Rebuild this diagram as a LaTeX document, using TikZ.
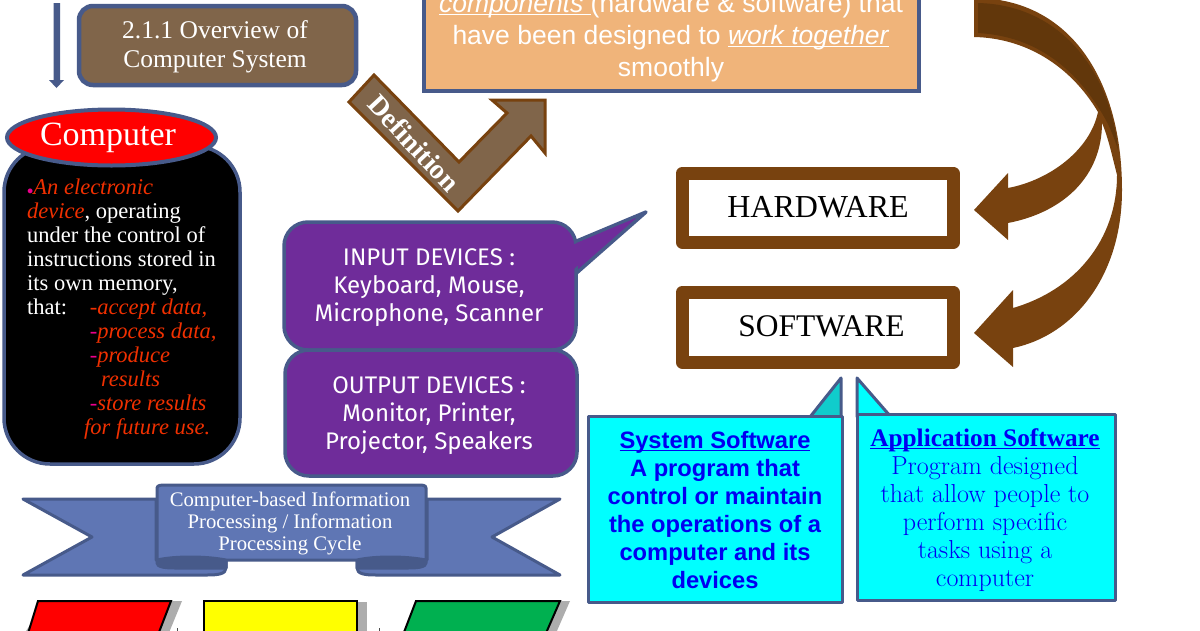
\documentclass[tikz,border=0pt]{standalone}
\usepackage{fontspec}
\newfontfamily\libs{Liberation Serif}
\newfontfamily\ari{Liberation Sans}
\newfontfamily\comic{Fira Sans}
\newcommand\ulx[1]{\underline{\smash{#1}}}
\usetikzlibrary{shapes.geometric}
\definecolor{navy}{HTML}{475A8A}
\definecolor{tan1}{HTML}{80654A}
\definecolor{brown1}{HTML}{78420F}
\definecolor{brown2}{HTML}{62370B}
\definecolor{peach}{HTML}{F0B47A}
\definecolor{purp}{HTML}{6F2C9A}
\definecolor{ribbon}{HTML}{5F76B4}
\definecolor{ribbondk}{HTML}{475A8A}
\definecolor{teal1}{HTML}{10CCCC}
\definecolor{orred}{HTML}{F03000}
\definecolor{grn}{HTML}{00B050}
\definecolor{cyan1}{HTML}{00FFFF}
\definecolor{yel}{HTML}{FFFF00}
\definecolor{red1}{HTML}{FF0000}
\definecolor{blue1}{HTML}{0000F0}
\tikzset{
  txt/.style={align=center,inner sep=0pt},
  navyline/.style={draw=navy,line width=3.5pt},
  ribbonline/.style={draw=navy,line width=3pt,line join=round},
  brownbox/.style={draw=brown1,line width=13pt,fill=white,line join=round,inner sep=0pt},
  purpbox/.style={navyline,fill=purp,rounded corners=24pt},
  cyanbox/.style={navyline,line width=3pt,fill=cyan1,line join=round},
  para/.style={draw=black,line width=2pt,line join=miter},
  shade1/.style={fill=black!32}
}
\begin{document}
\begin{tikzpicture}[x=1pt,y=-1pt]
\useasboundingbox (0,0) rectangle (1200,630);
\fill[white] (0,0) rectangle (1200,630);

% down arrow
\fill[navy] (53.5,3) rectangle (60,80) (49,80) -- (64,80) -- (56.5,88) -- cycle;

% overview box
\draw[navyline,line width=4.5pt,fill=tan1,rounded corners=14pt] (79,6) rectangle (356,85);
\node[txt,text=white,font=\libs\fontsize{25.5}{29}\selectfont] (overview) at (215,46.5) {2.1.1 Overview of\\Computer System};

% orange box
\draw[navyline,fill=peach] (424,-20) rectangle (919,91);
\node[txt,text=white,font=\ari\fontsize{26.5}{32}\selectfont] (defn) at (671,38)
 {\ulx{\textit{components }}(hardware \& software) that\\have been designed to \ulx{\textit{work together}}\\smoothly};

% definition bent arrow
\draw[draw=brown1,line width=3pt,fill=tan1,line join=miter] (349,102) -- (374,75) -- (459,162) -- (507,113) -- (492,100) -- (545,100) -- (545,153) -- (531,136) -- (458,211) -- cycle;
\node[txt,rotate=-47,text=white,font=\libs\bfseries\fontsize{28}{28}\selectfont] (deflabel) at (414,143) {Definition};

% black box and ellipse
\draw[navyline,fill=black,rounded corners=46pt] (4,146) rectangle (240,464);
\node[ellipse,navyline,line width=4pt,fill=red1,minimum width=209pt,minimum height=56pt,inner sep=0pt] (comp) at (111.5,137.5) {};
\node[txt,text=white,font=\libs\fontsize{34}{34}\selectfont] (complabel) at (108,138) {Computer};
\node[anchor=north west,inner sep=0pt,align=left,text=white,font=\libs\fontsize{22.5}{24}\selectfont] (desc) at (27,179) {%
\textcolor{magenta}{\scalebox{.6}{$\bullet$}}\textcolor{orred}{\textit{An electronic}}\\
\textcolor{orred}{\textit{device}}, operating\\
under the control of\\
instructions stored in\\
its own memory,\\
that:};
\node[anchor=north west,inner sep=0pt,align=left,text=orred,font=\libs\itshape\fontsize{22.5}{24}\selectfont] (desc2) at (84,299) {%
\ -accept data,\\
\ \textcolor{magenta}{-}process data,\\
\ \textcolor{magenta}{-}produce\\
\ \ \ results\\
\ \textcolor{magenta}{-}store results\\
for future use.};

% purple callouts
\draw[navyline,fill=purp,line join=round] (572,243) -- (646,212) -- (572,277) -- cycle;
\draw[purpbox] (284,222) rectangle (576,350);
\fill[purp] (570,246) -- (636,218) -- (570,272) -- cycle;
\node[txt,text=white,font=\comic\fontsize{24}{28.3}\selectfont] (input) at (429,287.5) {INPUT DEVICES :\\Keyboard, Mouse,\\Microphone, Scanner};
\draw[purpbox] (285,350) rectangle (577,476);
\node[txt,text=white,font=\comic\fontsize{24}{28.3}\selectfont] (output) at (429,415.5) {OUTPUT DEVICES :\\Monitor, Printer,\\Projector, Speakers};

% hardware/software
\draw[brownbox] (682.5,173) rectangle (953,242.5);
\draw[brownbox] (682.5,292) rectangle (953,362.5);
\node[txt,font=\libs\fontsize{32}{32}\selectfont] (hw) at (818,207) {HARDWARE};
\node[txt,font=\libs\fontsize{31.5}{32}\selectfont] (sw) at (821.5,326) {SOFTWARE};

% curved arrows
\fill[brown1] (974,-2) .. controls (1070,-2) and (1122,80) .. (1122,190)
  .. controls (1122,275) and (1075,335) .. (1013,348)
  -- (1013,367) -- (974,333) -- (1013,290) -- (1013,308)
  .. controls (1075,290) and (1117,240) .. (1117,175)
  .. controls (1112,155) and (1108,137) .. (1102,123)
  .. controls (1102,175) and (1065,212) .. (1008,223)
  -- (1008,240) -- (974,210) -- (1008,173) -- (1008,188)
  .. controls (1050,180) and (1090,150) .. (1098,112)
  .. controls (1070,65) and (1025,38) .. (974,37) -- cycle;
\fill[brown2] (978,3) .. controls (1060,5) and (1110,70) .. (1118,150)
  .. controls (1112,130) and (1105,118) .. (1100,110)
  .. controls (1070,62) and (1030,36) .. (978,33) -- cycle;

% cyan callouts
\draw[navyline,line width=3pt,fill=teal1,line join=round] (810,417) -- (841,378) -- (841,417) -- cycle;
\draw[cyanbox] (588,416) rectangle (842,602);
\node[txt,text=blue1,font=\ari\bfseries\fontsize{23.7}{28}\selectfont] (sys) at (715,519) {\ulx{System Software}\\A program that\\control or maintain\\the operations of a\\computer and its\\devices};
\draw[navyline,line width=3pt,fill=cyan1,line join=round] (857,417) -- (857,378) -- (891,417) -- cycle;
\draw[cyanbox] (857,414) rectangle (1115,600);
\node[txt,text=blue1,font=\fontsize{26}{28}\selectfont] (app) at (985,519) {\ulx{\libs\bfseries\fontsize{25.3}{28}\selectfont Application Software}\\Program designed\\that allow people to\\perform specific\\tasks using a\\computer};

% ribbon
\draw[ribbonline,fill=ribbon] (23,499) -- (156,499) -- (156,560) -- (226,560) -- (226,568) .. controls (226,574) and (218,575) .. (207,575) -- (23,575) -- (92,537) -- cycle;
\draw[ribbonline,fill=ribbon] (560,499) -- (427,499) -- (427,560) -- (357,560) -- (357,568) .. controls (357,574) and (365,575) .. (376,575) -- (560,575) -- (492,537) -- cycle;
\draw[ribbonline,fill=ribbondk] (157,558) -- (157,563) .. controls (157,567) and (165,568) .. (175,568) -- (226,568) -- (226,560) -- cycle;
\draw[ribbonline,fill=ribbondk] (426,558) -- (426,563) .. controls (426,567) and (418,568) .. (408,568) -- (357,568) -- (357,560) -- cycle;
\draw[ribbonline,fill=ribbon] (157,488) .. controls (157,485) and (162,485) .. (165,485) -- (418,485) .. controls (422,485) and (426,485) .. (426,488) -- (426,560) .. controls (405,556) and (375,556) .. (357,560) -- (226,560) .. controls (205,556) and (175,556) .. (157,560) -- cycle;
\node[txt,text=white,font=\libs\fontsize{20.7}{22}\selectfont] (cycle) at (290,523) {Computer-based Information\\Processing / Information\\Processing Cycle};

% bottom shapes
\fill[shade1] (46,601) -- (182,601) -- (166,640) -- (20,640) -- cycle;
\draw[para,fill=red1] (38,601) -- (171,601) -- (156,640) -- (26,640) -- cycle;
\fill[shade1] (357,602) rectangle (367,640);
\draw[para,fill=yel] (204,601) rectangle (357,640);
\fill[shade1] (422,601) -- (570,601) -- (553,640) -- (410,640) -- cycle;
\draw[para,fill=grn] (416,601) -- (560,601) -- (543,640) -- (401,640) -- cycle;
\fill[black!70] (176.5,627.5) rectangle (178,631);
\fill[black!70] (378.5,627.5) rectangle (380,631);
\end{tikzpicture}
\end{document}
